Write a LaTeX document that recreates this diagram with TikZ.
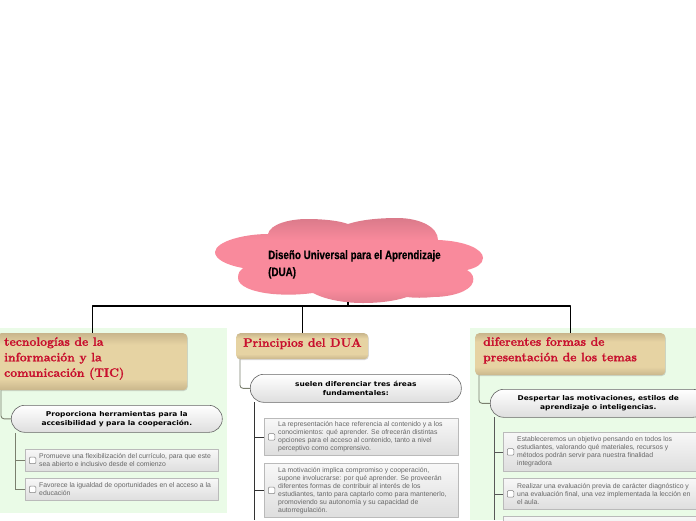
\documentclass[tikz,border=0pt]{standalone}
\usepackage{fontspec}
\usepackage{tikz}
\usetikzlibrary{positioning,shadows}
\setmainfont{Latin Modern Roman}[BoldFeatures={FakeBold=1.2}]
\newfontfamily\titlefont[FakeStretch=0.805,BoldFeatures={FakeBold=0.6}]{Liberation Sans}
\newfontfamily\pillfont[FakeStretch=1.13]{DejaVu Sans}
\newfontfamily\leaffont{Liberation Sans}
\definecolor{cloudpink}{HTML}{F98A9C}
\definecolor{clouddark}{HTML}{DA7A8A}
\definecolor{panelgreen}{HTML}{EAFBE7}
\definecolor{tanfill}{HTML}{E6D3A3}
\definecolor{tandark}{HTML}{C9B68C}
\definecolor{headred}{HTML}{C8102E}
\definecolor{oliveline}{HTML}{7A7F6E}
\pgfdeclareverticalshading{cloudshade}{100bp}{color(0bp)=(clouddark); color(25bp)=(clouddark!80!cloudpink); color(33bp)=(cloudpink); color(62bp)=(cloudpink); color(75bp)=(clouddark); color(100bp)=(clouddark)}
\pgfdeclareverticalshading{topicshade}{100bp}{color(0bp)=(tandark); color(25bp)=(tandark); color(35bp)=(tanfill); color(65bp)=(tanfill); color(75bp)=(tandark); color(100bp)=(tandark)}

\begin{document}
\begin{tikzpicture}[x=1pt,y=-1pt,line join=round]
    \tikzstyle{topic}=[anchor=north west,rounded corners=4pt,inner sep=0pt,shading=topicshade,drop shadow={shadow xshift=0.6pt,shadow yshift=-0.8pt,opacity=0.3}]
    \tikzstyle{topictext}=[inner sep=0pt,align=left,anchor=north west,text=headred,font=\fontsize{12.2}{15.5}\selectfont\bfseries]
    \tikzstyle{pill}=[anchor=north west,rounded corners=13.5pt,draw=black!60,line width=0.6pt,inner sep=0pt,top color=white,bottom color=black!13,align=center,font=\pillfont\fontsize{6.6}{9}\selectfont\bfseries]
    \tikzstyle{leaf}=[anchor=north west,draw=black!27,line width=0.9pt,inner sep=0pt,top color=black!3,bottom color=black!13]
    \tikzstyle{tick}=[draw=black!50,rounded corners=1pt,fill=white,minimum size=6.5pt,inner sep=0pt,line width=0.5pt]
    \tikzstyle{leaftext}=[inner sep=0pt,align=left,text=black!60,font=\leaffont\fontsize{6.85}{8}\selectfont]
    \tikzstyle{bus}=[draw=black,line width=1.3pt]
    \tikzstyle{link}=[draw=oliveline,line width=0.9pt,rounded corners=3pt]

    \useasboundingbox (0,0) rectangle (696,520);
    \clip (0,0) rectangle (696,520);

    % Green panels behind the side branches
    \path[fill=panelgreen] (0,328) rectangle (227,513);
    \path[fill=panelgreen] (470,328) rectangle (696,520);

    % The cloud
    \path[shading=cloudshade]
        (215,252) .. controls (216,241) and (245,234) .. (268,234)
        .. controls (270,224) and (290,219) .. (307,219)
        .. controls (325,219) and (340,221) .. (348,224)
        .. controls (360,220) and (378,218) .. (397,218)
        .. controls (420,218) and (438,227) .. (438,240)
        .. controls (465,241) and (483,249) .. (483,258)
        .. controls (483,264) and (476,268) .. (467,270)
        .. controls (473,273) and (474,278) .. (473,282)
        .. controls (470,292) and (450,297) .. (433,297)
        .. controls (424,298) and (414,298) .. (407,297)
        .. controls (395,301) and (380,303) .. (363,303)
        .. controls (340,303) and (322,298) .. (313,293)
        .. controls (298,295) and (285,295) .. (273,294)
        .. controls (252,292) and (238,286) .. (238,278)
        .. controls (238,273) and (240,270) .. (243,268)
        .. controls (226,265) and (215,259) .. (215,252) -- cycle;
    \node[inner sep=0pt,align=left,anchor=north west,font=\titlefont\fontsize{12.2}{17}\selectfont\bfseries] (root) at (268,250)
        {Diseño Universal para el Aprendizaje\\(DUA)};
    \coordinate (hub) at (348,302);
    \coordinate (busmid) at (348,306);

    % Draw the three topic nodes
    \foreach \name/\x/\w/\h in {1/-3/190/57,2/236/132/26,3/475/190/42}
        \node[topic,minimum width=\w pt,minimum height=\h pt] (T-\name) at (\x,333) {};
    \node[topictext] (H-1) at (4,337) {tecnologías de la\\información y la\\comunicación (TIC)};
    \node[topictext] (H-2) at (243,338) {Principios del DUA};
    \node[topictext] (H-3) at (483,337) {diferentes formas de\\presentación de los temas};

    % Connect the cloud with the topics
    \draw[bus] (hub) -- (busmid);
    \foreach \name in {1,2,3}
        \draw[bus] (busmid) -| (T-\name.north);

    % Draw the rounded nodes under the topics
    \node[pill,minimum width=211pt,minimum height=27pt] (P-1) at (11,405) {Proporciona herramientas para la\\accesibilidad y para la cooperación.};
    \node[pill,minimum width=211pt,minimum height=28pt] (P-2) at (250,374) {suelen diferenciar tres áreas\\fundamentales:};
    \node[pill,minimum width=216pt,minimum height=28pt] (P-3) at (490,389) {Despertar las motivaciones, estilos de\\aprendizaje o inteligencias.};

    \draw[link] ([xshift=4pt]T-1.south west) |- (P-1.west);
    \draw[link] ([xshift=4pt]T-2.south west) |- (P-2.west);
    \draw[link] ([xshift=4pt]T-3.south west) |- (P-3.west);

    % Free ends of the trunks
    \coordinate (trunk-1) at (15,433);
    \coordinate (trunk-2) at (254,402);
    \coordinate (trunk-3) at (494,417);

    % Draw the boxes of every branch
    \foreach \name/\y/\h/\txt in {
        1/449/22/{Promueve una flexibilización del currículo, para que este\\sea abierto e inclusivo desde el comienzo},
        2/478/22/{Favorece la igualdad de oportunidades en el acceso a la\\educación}}
    {
        \node[leaf,minimum width=193pt,minimum height=\h pt] (A-\name) at (25,\y) {};
        \node[tick,right=4pt of A-\name.west] (AC-\name) {};
        \node[leaftext,right=3pt of AC-\name] (AX-\name) {\txt};
        \draw[draw=oliveline,line width=0.9pt] (A-\name.west) -- (A-\name.west -| trunk-1);
    }
    \foreach \name/\y/\h/\txt in {
        1/418/37/{La representación hace referencia al contenido y a los\\conocimientos: qué aprender. Se ofrecerán distintas\\opciones para el acceso al contenido, tanto a nivel\\perceptivo como comprensivo.},
        2/463/54/{La motivación implica compromiso y cooperación,\\supone involucrarse: por qué aprender. Se proveerán\\diferentes formas de contribuir al interés de los\\estudiantes, tanto para captarlo como para mantenerlo,\\promoviendo su autonomía y su capacidad de\\autorregulación.}}
    {
        \node[leaf,minimum width=194pt,minimum height=\h pt] (B-\name) at (264,\y) {};
        \node[tick,right=4pt of B-\name.west] (BC-\name) {};
        \node[leaftext,right=3pt of BC-\name] (BX-\name) {\txt};
        \draw[draw=black!80,line width=0.9pt] (B-\name.west) -- (B-\name.west -| trunk-2);
    }
    \foreach \name/\y/\h/\txt in {
        1/432/39/{Estableceremos un objetivo pensando en todos los\\estudiantes, valorando qué materiales, recursos y\\métodos podrán servir para nuestra finalidad\\integradora},
        2/478/31/{Realizar una evaluación previa de carácter diagnóstico y\\una evaluación final, una vez implementada la lección en\\el aula.},
        3/516/30/{}}
    {
        \node[leaf,minimum width=200pt,minimum height=\h pt] (C-\name) at (503,\y) {};
        \ifnum\name<3
            \node[tick,right=4pt of C-\name.west] (CC-\name) {};
            \node[leaftext,right=3pt of CC-\name] (CX-\name) {\txt};
            \draw[draw=black!65,line width=0.9pt] (C-\name.west) -- (C-\name.west -| trunk-3);
        \fi
    }

    % Draw the trunks
    \coordinate (trunkend-2) at (254,520);
    \coordinate (trunkend-3) at (494,520);
    \draw[draw=oliveline,line width=0.9pt] (trunk-1) -- (trunk-1 |- A-2.west);
    \draw[draw=black!80,line width=0.9pt] (trunk-2) -- (trunkend-2);
    \draw[draw=black!65,line width=0.9pt] (trunk-3) -- (trunkend-3);
\end{tikzpicture}
\end{document}
